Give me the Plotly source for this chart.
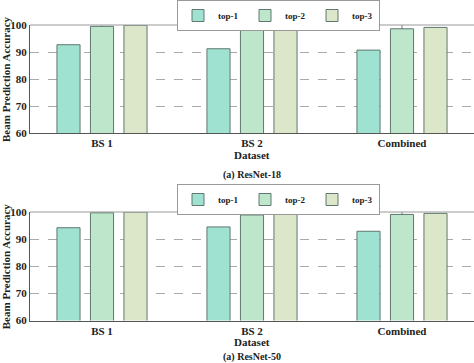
import plotly.graph_objects as go

categories = ["BS 1", "BS 2", "Combined"]
series_names = ["top-1", "top-2", "top-3"]

r18_top1 = [92.7, 91.2, 90.7]
r18_top2 = [99.5, 98.3, 98.6]
r18_top3 = [99.9, 100.0, 99.1]
r18_err2 = [0.3, 1.9, 1.4]

r50_top1 = [94.2, 94.5, 92.9]
r50_top2 = [99.7, 98.9, 99.1]
r50_top3 = [100.0, 99.2, 99.5]
r50_err2 = [0.2, 1.3, 1.1]

yticks = [60, 70, 80, 90, 100]
colors = ["#9fe2d1", "#bde6cb", "#dce6c8"]
edge = "#5f7870"
FONT = "Liberation Serif"

W, H = 474, 363
fig = go.Figure()

panels = [
    ([r18_top1, r18_top2, r18_top3], [None, r18_err2, None], "x", "y", "legend"),
    ([r50_top1, r50_top2, r50_top3], [None, r50_err2, None], "x2", "y2", "legend2"),
]
for vals, errs, xa, ya, lg in panels:
    for name, v, e, c in zip(series_names, vals, errs, colors):
        kw = {}
        if e is not None:
            kw["error_y"] = dict(type="data", symmetric=False, array=e,
                                 arrayminus=[0] * len(e), color="#555555",
                                 thickness=0.8, width=0)
        fig.add_trace(go.Bar(
            x=categories, y=v, name="<b>" + name + "</b>", xaxis=xa, yaxis=ya, legend=lg,
            marker=dict(color=c, line=dict(color=edge, width=1)), **kw))

def px_y(p):
    return 1 - p / H

top_dom = [px_y(133), px_y(25)]
bot_dom = [px_y(320.5), px_y(212)]
xdom = [30 / W, 1.0]

axis_font = dict(family=FONT, size=11, color="#222222")
xcommon = dict(range=[-0.48, 2.48], showline=True, linecolor="#555555", linewidth=1,
               ticks="", tickfont=axis_font, showgrid=False, domain=xdom, automargin=False)
ycommon = dict(range=[60, 100], tickvals=yticks, showline=True, linecolor="#555555",
               linewidth=1, ticks="", tickfont=axis_font, showgrid=True,
               gridcolor="#aaaaaa", griddash="dash", gridwidth=1, zeroline=False,
               automargin=False)

legend_common = dict(orientation="h", xanchor="left", yanchor="top",
                     font=dict(family=FONT, size=9, color="#222222"),
                     bordercolor="#999999", borderwidth=1, bgcolor="white",
                     itemwidth=30, tracegroupgap=0, entrywidth=22,
                     entrywidthmode="pixels")

fig.update_layout(
    width=W, height=H, margin=dict(l=0, r=0, t=0, b=0, autoexpand=False),
    paper_bgcolor="white", plot_bgcolor="white",
    barmode="group", bargap=0.33, bargroupgap=0.31,
    xaxis=dict(anchor="y", **xcommon),
    yaxis=dict(anchor="x", domain=top_dom, **ycommon),
    xaxis2=dict(anchor="y2", **xcommon),
    yaxis2=dict(anchor="x2", domain=bot_dom, **ycommon),
    legend=dict(x=177 / W, y=1.0, **legend_common),
    legend2=dict(x=177 / W, y=px_y(184), **legend_common),
    showlegend=True,
)

title_font = dict(family=FONT, size=11, color="#222222")
for ya, dom, cap, dy, cy in [("y", top_dom, "(a) ResNet-18", 155, 175),
                             ("y2", bot_dom, "(a) ResNet-50", 342, 357)]:
    fig.add_shape(type="line", xref="x domain" if ya == "y" else "x2 domain",
                  yref=ya + " domain", x0=0, x1=1, y0=1, y1=1,
                  line=dict(color="#999999", width=1))
    fig.add_annotation(text="<b>Beam Prediction Accuracy</b>", xref="paper", yref="paper",
                       x=6 / W, y=(dom[0] + dom[1]) / 2, textangle=-90, showarrow=False,
                       font=title_font, xanchor="center", yanchor="middle")
    fig.add_annotation(text="<b>Dataset</b>", xref="paper", yref="paper",
                       x=252 / W, y=px_y(dy), showarrow=False, font=title_font,
                       xanchor="center", yanchor="middle")
    fig.add_annotation(text="<b>" + cap + "</b>", xref="paper", yref="paper",
                       x=252 / W, y=px_y(cy), showarrow=False,
                       font=dict(family=FONT, size=10, color="#222222"),
                       xanchor="center", yanchor="middle")

fig.for_each_xaxis(lambda a: a.update(tickvals=categories,
                                      ticktext=["<b>" + c + "</b>" for c in categories]))
fig.for_each_yaxis(lambda a: a.update(ticktext=["<b>%d</b>" % t for t in yticks]))

fig.write_html("out.html", config={"displayModeBar": False},
               post_script="document.body.style.margin='0';")
